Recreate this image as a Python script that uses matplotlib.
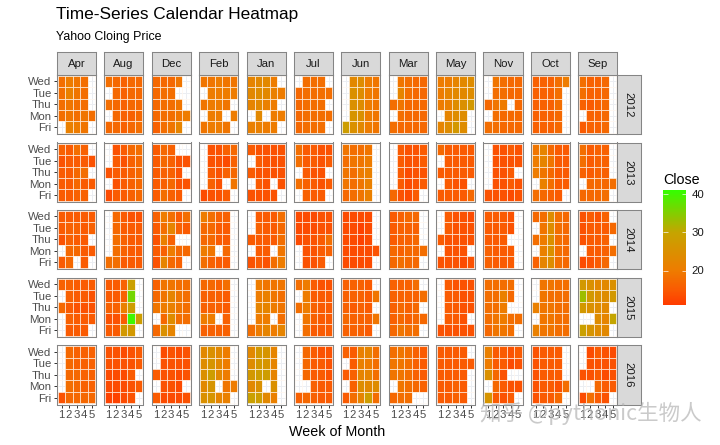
import matplotlib
matplotlib.use("Agg")
import matplotlib.pyplot as plt
import numpy as np
from matplotlib.colors import LinearSegmentedColormap, Normalize

_ = np.nan

MONTHS = ["Apr", "Aug", "Dec", "Feb", "Jan", "Jul", "Jun", "Mar", "May", "Nov", "Oct", "Sep"]
DAYS = ["Wed", "Tue", "Thu", "Mon", "Fri"]
WEEKS = [1, 2, 3, 4, 5]
YEARS = [2012, 2013, 2014, 2015, 2016]
LEGEND_TICKS = [20, 30, 40]

# one 5x5 block per month, rows Wed..Fri, columns week 1..5
CLOSE_2012 = [
    [[18, 20, 19, 18, _], [18, 21, 19, 18, _], [18, 19, 18, 18, _], [18, 19, 18, 19, 18], [_, 21, 20, 19, _]],
    [[18, 17, 16, 17, 17], [_, 17, 16, 17, 17], [18, 17, 16, 17, 17], [_, 17, 16, 16, 17], [17, 17, 16, 17, 18]],
    [[17, 17, 17, 19, _], [17, 18, 18, _, _], [17, 18, 18, 19, _], [17, 18, 18, 19, 20], [16, 18, 19, 22, _]],
    [[19, 19, 20, 19, 19], [_, 20, 20, 20, 20], [19, 20, 20, 19, _], [_, 20, 20, _, 20], [19, 20, 20, 19, _]],
    [[22, 23, 23, 20, _], [23, 24, 23, 21, 20], [22, 23, 21, 20, _], [_, 23, _, 20, 20], [21, 21, 20, 20, _]],
    [[_, 18, 18, 18, _], [17, 18, 18, 18, 18], [17, 18, 18, 18, _], [17, 18, 18, 18, 18], [17, 18, 18, 18, _]],
    [[_, 23, 24, 20, 19], [_, 25, 24, 20, 19], [_, 25, 24, 20, 19], [_, 26, 25, 20, 19], [28, 25, 23, 20, 19]],
    [[_, 19, 18, 17, 17], [_, 22, 18, 17, 17], [18, 19, 17, 17, 17], [_, 18, 17, 17, 17], [18, 17, 17, 17, 17]],
    [[20, 20, 22, 23, 24], [20, 22, 23, 23, 24], [20, 21, 24, 25, 27], [_, 22, 24, 24, _], [22, 24, 27, 24, _]],
    [[_, 19, 18, 17, 17], [_, 18, 18, 17, 17], [17, 19, 20, _, 17], [_, 18, 17, 17, 17], [18, 18, 17, 17, 17]],
    [[16, 16, 16, 18, 20], [16, 16, 16, 18, _], [16, 16, 16, 18, _], [16, 16, 16, 17, _], [16, 16, 16, 17, _]],
    [[18, 16, 16, 17, _], [18, 16, 16, 17, _], [16, 15, 16, 17, _], [_, 16, 16, 17, _], [15, 16, 16, 17, _]],
]
CLOSE_2013 = [
    [[16, 15, 18, 16, _], [14, 15, 15, 15, 14], [15, 15, 17, 18, _], [15, 15, 17, 15, 15], [15, 15, 16, 16, _]],
    [[_, 14, 15, 17, 18], [_, 15, 14, 16, 17], [14, 15, 15, 16, 17], [_, 14, 15, 16, 17], [13, 15, 15, 16, 17]],
    [[15, 17, 16, _, _], [15, 17, 16, 14, 14], [15, 16, 16, 14, _], [15, 16, 17, 14, 14], [15, 18, 16, 15, _]],
    [[_, 14, 14, 16, 17], [_, 14, 14, 13, 16], [_, 15, 14, 16, 17], [_, 16, 14, _, 19], [13, 14, 14, 15, _]],
    [[15, 14, 14, 14, 14], [_, 15, 14, 14, 14], [15, 14, 14, 14, 14], [_, 15, 14, _, 14], [14, 14, 14, 14, _]],
    [[18, 15, 15, 14, 14], [18, 15, 15, 14, 15], [_, 15, 14, 14, _], [18, 16, 15, 14, 15], [_, 16, 15, 15, _]],
    [[19, 18, 18, 19, _], [18, 19, 19, 20, _], [19, 18, 20, 21, _], [19, 18, 19, 21, _], [17, 18, 19, 21, _]],
    [[_, 15, 14, 14, 15], [_, 15, 14, 14, 15], [_, 15, 13, 14, 14], [_, 15, 13, 14, 15], [17, 14, 13, 15, _]],
    [[17, 15, 15, 15, 15], [_, 15, 15, 15, 15], [15, 15, 15, 15, 15], [_, 15, 14, 14, _], [15, 15, 15, 15, 17]],
    [[_, 14, 14, 15, 14], [_, 14, 14, 14, 14], [_, 14, 14, 15, _], [_, 14, 14, 15, 14], [14, 14, 14, 13, 14]],
    [[19, 22, 17, 15, 15], [20, 22, 19, 15, 15], [20, 19, 17, 15, 15], [_, 21, 18, 15, 15], [18, 17, 16, 15, _]],
    [[18, 15, 16, 16, _], [18, 15, 16, 16, _], [16, 15, 16, 16, _], [_, 17, 17, 17, 18], [17, 17, 17, 18, _]],
]
CLOSE_2014 = [
    [[15, 15, 15, 15, 15], [15, 16, 16, 15, 16], [14, 16, 15, 15, _], [_, 17, 17, 15, 15], [15, 17, _, 15, _]],
    [[_, 17, 15, 14, 14], [_, 17, 15, 15, 15], [_, 18, 16, 15, 15], [_, 18, 16, 15, 15], [18, 18, 15, 15, 15]],
    [[16, 20, 18, 15, 18], [15, 18, 22, 16, 15], [14, 21, 16, _, _], [15, 16, 20, 17, 17], [14, 22, 17, 16, _]],
    [[20, 18, 16, 16, _], [17, 17, 15, 15, _], [17, 17, 15, 15, _], [20, 19, _, 17, _], [18, 16, 15, 15, _]],
    [[_, 15, 15, 15, 18], [_, 16, 15, 15, 17], [15, 15, 15, 15, 18], [_, 15, 15, _, 19], [14, 15, 14, 18, 20]],
    [[13, 13, 13, 14, 14], [13, 13, 13, 14, 14], [13, 14, 14, 15, 18], [_, 14, 14, 15, 16], [_, 14, 14, 15, _]],
    [[13, 13, 13, 13, _], [13, 13, 12, 13, _], [13, 13, 12, 13, _], [13, 13, 13, 13, 14], [13, 13, 13, 13, _]],
    [[15, 16, 17, 17, _], [15, 16, 16, 16, _], [15, 16, 16, 17, _], [17, 16, 17, 17, 18], [17, 18, 17, 17, _]],
    [[_, 15, 14, 14, 13], [_, 15, 14, 14, 14], [15, 14, 14, 14, 14], [_, 14, 14, 14, _], [14, 14, 14, 13, 14]],
    [[15, 15, 15, 14, _], [15, 15, 15, 14, _], [15, 15, 15, _, _], [16, 15, 15, 15, _], [16, 15, 15, 15, _]],
    [[17, 18, 24, 18, 17], [_, 19, 24, 18, 17], [18, 20, 25, 18, 17], [_, 21, 25, 18, 17], [16, 22, 24, 18, 17]],
    [[14, 15, 14, 16, _], [14, 15, 15, 15, 17], [14, 15, 15, 16, _], [_, 15, 15, 16, 18], [13, 14, 15, 17, _]],
]
CLOSE_2015 = [
    [[16, 16, 15, 15, 15], [_, 16, 15, 15, 14], [17, 15, 14, 14, 14], [_, 16, 15, 15, 15], [_, 15, 15, 15, _]],
    [[15, 15, 16, 29, _], [15, 15, 16, 36, _], [16, 16, 21, 28, _], [14, 14, 15, 40, 28], [15, 15, 27, 27, _]],
    [[16, 19, 19, 18, 18], [17, 19, 22, 19, 18], [19, 20, 21, 19, 18], [_, 17, 24, 18, 18], [17, 25, 22, _, _]],
    [[17, 17, 16, 18, _], [16, 16, 16, 15, _], [16, 16, 16, 15, _], [20, 20, _, 16, _], [16, 16, 16, 16, _]],
    [[_, 20, 19, 19, 19], [_, 20, 21, 19, 18], [_, 22, 22, 20, 19], [_, 20, 20, _, 18], [18, 20, 22, 20, 22]],
    [[18, 20, 15, 14, 14], [_, 20, 15, 15, 15], [18, 20, 16, 15, 15], [_, 19, 16, 15, 15], [_, 18, 15, 15, 15]],
    [[16, 16, 16, 15, _], [16, 16, 16, 15, 19], [16, 15, 16, 15, _], [17, 16, 16, 16, 19], [16, 16, 16, 15, _]],
    [[16, 16, 16, 18, _], [16, 16, 16, 16, 18], [16, 17, 16, 17, _], [16, 17, 16, 17, 17], [17, 19, 18, 18, _]],
    [[_, 15, 14, 14, 14], [_, 15, 15, 14, 14], [_, 15, 15, 14, 14], [_, 15, 15, 14, _], [14, 14, 14, 14, 14]],
    [[18, 18, 18, 18, _], [18, 18, 21, 17, _], [18, 18, 20, _, _], [18, 19, 20, 18, 18], [17, 19, 19, 18, _]],
    [[_, 19, 19, 18, 18], [_, 19, 18, 18, 18], [21, 19, 19, 18, 18], [_, 19, 19, 18, 18], [21, 19, 19, 18, 18]],
    [[27, 25, 23, 23, 25], [33, 27, 25, 24, 27], [27, 25, 24, 23, _], [_, _, 24, 22, 30], [29, 26, 24, 23, _]],
]
CLOSE_2016 = [
    [[_, 17, 16, 16, 16], [_, 17, 16, 16, 16], [_, 17, 17, 16, 16], [_, 18, 17, 16, 16], [14, 17, 17, 17, 17]],
    [[14, 14, 13, 14, 15], [14, 14, 14, 14, 15], [13, 13, 13, 15, _], [13, 13, 13, 14, 15], [12, 12, 13, 14, _]],
    [[_, 13, 14, 13, 14], [_, 14, 14, 14, 14], [15, 14, 14, 13, 14], [_, 14, 14, 13, _], [15, 13, 13, 13, 14]],
    [[23, 25, 23, 20, _], [24, 26, 23, 20, _], [25, 28, 23, 20, _], [23, 26, _, 19, 20], [25, 26, 22, 21, _]],
    [[23, 27, 26, 22, _], [24, 27, 26, 22, _], [27, 28, 28, 22, _], [23, 25, _, 25, _], [29, 28, 23, 21, _]],
    [[_, 17, 15, 14, 14], [_, 17, 15, 15, 14], [_, 17, 15, 15, 14], [_, _, 16, 15, 15], [16, 17, 16, 15, 15]],
    [[16, 15, 21, 22, 18], [_, 15, 21, 20, 18], [15, 16, 22, 22, 18], [_, 16, 24, 23, 24], [15, 18, 22, 28, 18]],
    [[18, 19, 18, 16, 15], [19, 19, 18, 16, 15], [19, 19, 18, 16, 15], [_, 19, 18, 17, 16], [17, 18, 18, _, _]],
    [[15, 15, 15, 15, _], [15, 15, 15, 15, 15], [15, 15, 15, 15, _], [15, 15, 16, 15, _], [15, 15, 16, 15, _]],
    [[21, 15, 15, 14, 15], [20, 15, 15, 13, 14], [25, 17, 14, _, _], [_, 17, 15, 14, 14], [26, 15, 14, 15, _]],
    [[14, 15, 15, 15, _], [14, 15, 15, 15, _], [14, 15, 15, 15, _], [14, 15, 15, 14, 18], [14, 15, 15, 17, _]],
    [[_, 13, 15, 14, 13], [_, 14, 14, 14, 14], [14, 14, 15, 13, 14], [_, _, 17, 15, 15], [13, 18, 15, 14, _]],
]
CLOSE_BY_YEAR = [CLOSE_2012, CLOSE_2013, CLOSE_2014, CLOSE_2015, CLOSE_2016]

W, H = 720, 445
PANEL_LEFT = [57, 104, 151.5, 199, 246.5, 294, 341, 388.5, 436, 483.5, 531, 578]
PANEL_W = 39.2
PANEL_TOP = [74.5, 142.5, 209.5, 277.5, 345]
PANEL_H = 59.5

plt.rcParams["font.family"] = ["Liberation Sans", "DejaVu Sans"]

cmap = LinearSegmentedColormap.from_list(
    "close",
    [(0.0, "#FF3B00"), (0.13, "#FA5A02"), (0.30, "#EE7C00"), (0.63, "#C6A400"), (1.0, "#33FF00")],
)
norm = Normalize(11, 41)


def px_axes(fig, left, top, width, height):
    return fig.add_axes([left / W, 1 - (top + height) / H, width / W, height / H])


fig = plt.figure(figsize=(W / 100, H / 100), dpi=100)
edge = "#858585"

for r, year in enumerate(YEARS):
    for c, month in enumerate(MONTHS):
        ax = px_axes(fig, PANEL_LEFT[c], PANEL_TOP[r], PANEL_W, PANEL_H)
        vals = np.ma.masked_invalid(np.array(CLOSE_BY_YEAR[r][c], dtype=float))
        xe = np.arange(0.5, 6)
        ye = np.arange(5.5, -0.5, -1)
        ax.set_axisbelow(True)
        ax.grid(True, color="#eceef2", linewidth=0.7)
        ax.pcolormesh(xe, ye, vals, cmap=cmap, norm=norm, edgecolors="#fff8f0",
                      linewidth=0.42, antialiased=True)
        ax.set_xlim(0.4, 5.6)
        ax.set_ylim(0.4, 5.6)
        ax.set_xticks(WEEKS)
        ax.set_yticks(range(5, 0, -1))
        ax.set_xticklabels(WEEKS if r == len(YEARS) - 1 else [])
        ax.set_yticklabels(DAYS if c == 0 else [])
        ax.tick_params(
            axis="x", length=2.4 if r == len(YEARS) - 1 else 0, width=0.7, color="#333333",
            labelsize=8.2, labelcolor="#4d4d4d", pad=1.5,
        )
        ax.tick_params(
            axis="y", length=2.4 if c == 0 else 0, width=0.7, color="#333333",
            labelsize=8.2, labelcolor="#4d4d4d", pad=1.5,
        )
        for sp in ax.spines.values():
            sp.set_color(edge)
            sp.set_linewidth(0.75)

        if r == 0:
            st = px_axes(fig, PANEL_LEFT[c], 51.8, PANEL_W, 22.7)
            st.set_facecolor("#d9d9d9")
            st.set_xticks([])
            st.set_yticks([])
            for sp in st.spines.values():
                sp.set_color(edge)
                sp.set_linewidth(0.75)
            st.text(0.5, 0.47, month, ha="center", va="center", fontsize=8.2,
                    color="#1a1a1a", transform=st.transAxes)

    st = px_axes(fig, 617.2, PANEL_TOP[r], 23.3, PANEL_H)
    st.set_facecolor("#d9d9d9")
    st.set_xticks([])
    st.set_yticks([])
    for sp in st.spines.values():
        sp.set_color(edge)
        sp.set_linewidth(0.75)
    st.text(0.5, 0.5, str(year), ha="center", va="center", rotation=-90, fontsize=8.2,
            color="#1a1a1a", transform=st.transAxes)

# legend
cax = px_axes(fig, 663.3, 190, 23, 115)
cb = fig.colorbar(plt.cm.ScalarMappable(norm=norm, cmap=cmap), cax=cax)
cb.outline.set_visible(False)
cb.set_ticks(LEGEND_TICKS)
cb.ax.tick_params(length=0, labelsize=8.2, labelcolor="#1a1a1a", pad=4)
cb.ax.hlines(LEGEND_TICKS, 0, 0.2, color="white", linewidth=0.6, alpha=0.8)
cb.ax.hlines(LEGEND_TICKS, 0.8, 1, color="white", linewidth=0.6, alpha=0.8)
fig.text(663 / W, 1 - 180 / H, "Close", fontsize=10.3, ha="left", va="center")

fig.text(56 / W, 1 - 14.5 / H, "Time-Series Calendar Heatmap", fontsize=12.4, ha="left", va="center")
fig.text(56 / W, 1 - 37 / H, "Yahoo Cloing Price", fontsize=8.9, ha="left", va="center")
fig.text(337 / W, 1 - 432.5 / H, "Week of Month", fontsize=10.3, ha="center", va="center")

# site watermark from the source image
fig.text(480 / W, 1 - 413 / H, "知乎 @pythonic生物人", fontsize=15.5, ha="left", va="center",
         color="#b4b4b4", alpha=0.7, family=["Noto Sans CJK SC", "DejaVu Sans"])

fig.savefig("out.png", dpi=100)
